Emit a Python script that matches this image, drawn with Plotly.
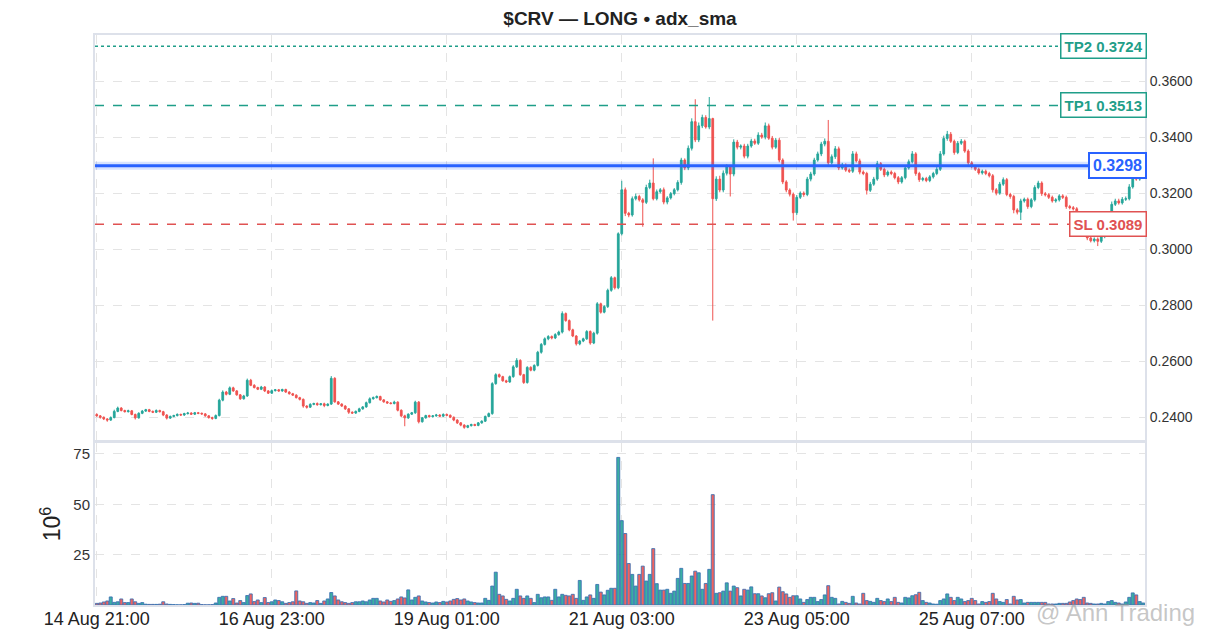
import plotly.graph_objects as go
import pandas as pd

# ---------------- data (hourly candles) ----------------
start_time = "2025-08-14 21:00"
n_candles = 300
first_open = 0.2410

close = [
    0.2405, 0.2400, 0.2394, 0.2390, 0.2399, 0.2421, 0.2433, 0.2424, 0.2420, 0.2423,
    0.2410, 0.2398, 0.2414, 0.2422, 0.2427, 0.2421, 0.2418, 0.2424, 0.2420, 0.2408,
    0.2397, 0.2403, 0.2406, 0.2410, 0.2408, 0.2413, 0.2415, 0.2411, 0.2416, 0.2414,
    0.2412, 0.2405, 0.2399, 0.2396, 0.2406, 0.2461, 0.2490, 0.2482, 0.2505, 0.2494,
    0.2480, 0.2466, 0.2476, 0.2532, 0.2514, 0.2506, 0.2500, 0.2508, 0.2494, 0.2486,
    0.2495, 0.2498, 0.2494, 0.2499, 0.2490, 0.2484, 0.2479, 0.2470, 0.2464, 0.2440,
    0.2436, 0.2446, 0.2449, 0.2445, 0.2448, 0.2442, 0.2447, 0.2539, 0.2455, 0.2447,
    0.2440, 0.2430, 0.2418, 0.2415, 0.2421, 0.2430, 0.2437, 0.2452, 0.2466, 0.2470,
    0.2474, 0.2462, 0.2455, 0.2451, 0.2449, 0.2454, 0.2425, 0.2405, 0.2398, 0.2411,
    0.2416, 0.2454, 0.2384, 0.2398, 0.2406, 0.2402, 0.2405, 0.2408, 0.2404, 0.2410,
    0.2407, 0.2400, 0.2390, 0.2380, 0.2372, 0.2364, 0.2370, 0.2374, 0.2371, 0.2380,
    0.2386, 0.2403, 0.2413, 0.2520, 0.2552, 0.2545, 0.2530, 0.2526, 0.2545, 0.2580,
    0.2603, 0.2552, 0.2524, 0.2578, 0.2568, 0.2585, 0.2632, 0.2660, 0.2680, 0.2688,
    0.2683, 0.2695, 0.2704, 0.2770, 0.2745, 0.2712, 0.2690, 0.2662, 0.2672, 0.2680,
    0.2706, 0.2665, 0.2700, 0.2805, 0.2775, 0.2795, 0.2853, 0.2898, 0.2862, 0.3055,
    0.3212, 0.3128, 0.3122, 0.3180, 0.3188, 0.3176, 0.3167, 0.3220, 0.3236, 0.3180,
    0.3205, 0.3212, 0.3168, 0.3183, 0.3198, 0.3212, 0.3238, 0.3318, 0.3290, 0.3360,
    0.3455, 0.3390, 0.3440, 0.3470, 0.3436, 0.3466, 0.3180, 0.3250, 0.3211, 0.3271,
    0.3293, 0.3268, 0.3382, 0.3364, 0.3368, 0.3332, 0.3368, 0.3386, 0.3378, 0.3407,
    0.3400, 0.3440, 0.3396, 0.3364, 0.3389, 0.3318, 0.3240, 0.3211, 0.3196, 0.3130,
    0.3185, 0.3200, 0.3195, 0.3250, 0.3268, 0.3318, 0.3340, 0.3375, 0.3385, 0.3308,
    0.3330, 0.3358, 0.3290, 0.3300, 0.3282, 0.3278, 0.3340, 0.3315, 0.3275, 0.3270,
    0.3210, 0.3232, 0.3250, 0.3305, 0.3285, 0.3265, 0.3275, 0.3270, 0.3255, 0.3240,
    0.3255, 0.3290, 0.3312, 0.3340, 0.3270, 0.3248, 0.3252, 0.3245, 0.3258, 0.3270,
    0.3285, 0.3340, 0.3395, 0.3410, 0.3385, 0.3345, 0.3378, 0.3385, 0.3350, 0.3308,
    0.3295, 0.3285, 0.3272, 0.3278, 0.3270, 0.3262, 0.3212, 0.3200, 0.3232, 0.3248,
    0.3195, 0.3188, 0.3140, 0.3132, 0.3172, 0.3178, 0.3152, 0.3176, 0.3220, 0.3236,
    0.3198, 0.3194, 0.3185, 0.3172, 0.3176, 0.3190, 0.3185, 0.3152, 0.3148, 0.3144,
    0.3130, 0.3095, 0.3060, 0.3040, 0.3030, 0.3036, 0.3028, 0.3045, 0.3060, 0.3110,
    0.3160, 0.3172, 0.3165, 0.3178, 0.3180, 0.3222, 0.3255, 0.3250, 0.3258, 0.3262,
]

# wick lengths above / below the candle body, in units of 0.0001
upper_wick = [
    4, 3, 3, 3, 4, 6, 5, 3, 3, 4,
    3, 3, 4, 4, 3, 3, 3, 4, 3, 3,
    3, 3, 3, 4, 3, 3, 4, 3, 3, 3,
    3, 3, 3, 3, 4, 5, 6, 4, 5, 4,
    3, 3, 4, 6, 5, 4, 3, 4, 3, 3,
    4, 3, 3, 3, 3, 3, 3, 3, 3, 3,
    3, 4, 3, 4, 3, 4, 3, 8, 4, 3,
    3, 3, 3, 3, 3, 4, 3, 4, 5, 4,
    4, 3, 3, 3, 3, 5, 3, 3, 4, 3,
    3, 5, 4, 3, 3, 3, 3, 4, 3, 4,
    3, 3, 3, 3, 3, 3, 3, 3, 3, 3,
    3, 3, 4, 5, 5, 4, 3, 4, 4, 6,
    8, 4, 3, 4, 4, 4, 5, 5, 5, 5,
    4, 5, 5, 8, 4, 4, 4, 3, 4, 4,
    5, 4, 5, 6, 4, 5, 6, 6, 4, 5,
    32, 8, 5, 8, 10, 6, 6, 10, 12, 88,
    8, 6, 8, 6, 6, 6, 8, 8, 6, 10,
    12, 80, 12, 10, 8, 77, 3, 10, 12, 10,
    10, 8, 10, 8, 6, 8, 8, 8, 8, 10,
    8, 12, 8, 8, 8, 8, 6, 6, 6, 6,
    8, 6, 6, 8, 8, 8, 8, 8, 10, 76,
    8, 10, 8, 8, 6, 6, 10, 8, 8, 6,
    6, 8, 8, 10, 6, 6, 6, 6, 6, 6,
    6, 8, 8, 10, 6, 6, 6, 6, 6, 6,
    8, 10, 10, 12, 8, 6, 8, 8, 6, 6,
    6, 6, 6, 6, 6, 6, 6, 6, 8, 8,
    6, 6, 6, 6, 8, 6, 6, 6, 8, 8,
    6, 6, 6, 6, 6, 6, 6, 6, 6, 6,
    6, 6, 6, 6, 6, 6, 6, 8, 8, 10,
    10, 8, 8, 8, 8, 10, 10, 8, 8, 6,
]

lower_wick = [
    3, 5, 4, 6, 3, 3, 3, 3, 3, 3,
    3, 6, 3, 3, 3, 3, 3, 3, 3, 4,
    5, 3, 3, 3, 3, 3, 3, 3, 3, 3,
    3, 3, 4, 5, 3, 3, 4, 4, 3, 3,
    3, 4, 3, 3, 3, 3, 3, 3, 4, 3,
    3, 3, 3, 3, 3, 3, 3, 3, 4, 6,
    5, 3, 3, 4, 3, 6, 3, 3, 3, 3,
    3, 4, 6, 3, 3, 3, 3, 3, 3, 3,
    3, 3, 3, 3, 3, 3, 4, 4, 30, 4,
    3, 4, 6, 3, 3, 3, 3, 3, 3, 3,
    3, 3, 4, 4, 4, 5, 3, 3, 3, 3,
    3, 3, 3, 4, 4, 4, 3, 4, 3, 4,
    4, 4, 5, 4, 4, 4, 4, 5, 4, 5,
    5, 4, 4, 5, 4, 5, 4, 6, 5, 4,
    4, 6, 4, 5, 5, 4, 5, 5, 6, 5,
    6, 10, 8, 6, 6, 6, 87, 6, 6, 6,
    6, 6, 8, 8, 6, 6, 6, 8, 8, 8,
    8, 8, 8, 8, 6, 8, 435, 8, 8, 8,
    8, 80, 8, 8, 8, 8, 8, 6, 6, 6,
    6, 8, 6, 8, 6, 8, 8, 8, 8, 28,
    8, 6, 8, 6, 8, 6, 6, 8, 8, 8,
    6, 8, 8, 6, 6, 6, 6, 6, 8, 6,
    15, 6, 6, 6, 6, 8, 6, 6, 6, 8,
    6, 6, 6, 6, 8, 8, 6, 6, 6, 6,
    6, 6, 6, 8, 6, 8, 6, 6, 6, 8,
    6, 6, 6, 6, 6, 6, 10, 8, 6, 6,
    6, 8, 12, 8, 28, 6, 8, 6, 6, 6,
    8, 6, 6, 6, 6, 6, 6, 8, 6, 6,
    6, 8, 8, 8, 6, 6, 17, 6, 6, 6,
    6, 6, 6, 6, 6, 6, 6, 6, 6, 6,
]

# volume in millions
volume_m = [
    0.8, 1.0, 1.5, 2.0, 4.0, 1.3, 1.6, 3.0, 1.2, 1.2,
    3.0, 1.6, 0.8, 1.2, 0.4, 0.3, 0.3, 0.3, 0.4, 1.6,
    0.5, 0.3, 0.2, 0.1, 0.1, 0.2, 0.9, 1.0, 0.8, 0.9,
    0.2, 0.1, 0.1, 0.2, 1.0, 3.8, 4.3, 4.3, 2.0, 3.2,
    1.0, 2.2, 1.2, 4.7, 5.5, 1.7, 2.5, 1.2, 3.7, 1.2,
    1.6, 2.5, 2.2, 1.6, 0.8, 1.2, 1.6, 7.0, 2.0, 1.6,
    0.8, 1.2, 1.0, 2.2, 0.8, 2.0, 3.0, 6.2, 4.5, 2.5,
    1.6, 1.2, 0.8, 1.2, 1.6, 1.6, 2.0, 1.6, 2.5, 3.3,
    3.3, 2.0, 1.5, 2.5, 1.8, 2.2, 3.0, 4.0, 3.5, 7.5,
    2.5, 3.8, 4.5, 2.0, 1.5, 1.2, 1.0, 1.5, 1.2, 1.8,
    1.5, 2.0, 2.8, 3.2, 2.5, 3.0, 2.0, 1.5, 1.2, 1.0,
    1.0, 3.3, 2.3, 9.4, 16.3, 5.3, 4.5, 2.8, 2.0, 3.3,
    7.8, 4.5, 3.3, 4.5, 3.3, 1.2, 5.3, 3.6, 4.0, 4.0,
    2.3, 7.8, 4.0, 5.3, 4.8, 4.5, 5.3, 3.3, 12.2, 2.3,
    4.0, 5.0, 3.3, 10.2, 6.4, 5.0, 7.3, 8.3, 8.3, 73.3,
    41.9, 35.5, 20.6, 15.2, 9.4, 15.2, 19.3, 11.9, 15.2, 28.0,
    10.6, 7.4, 7.4, 7.8, 5.8, 6.9, 13.2, 18.2, 10.7, 10.7,
    14.4, 16.8, 16.0, 7.8, 10.7, 17.7, 54.8, 5.8, 6.1, 6.9,
    11.0, 6.9, 9.4, 8.6, 4.5, 7.8, 7.4, 9.0, 5.6, 5.6,
    4.5, 3.6, 5.6, 6.1, 2.0, 8.9, 6.6, 5.5, 3.8, 4.6,
    4.6, 3.0, 1.3, 2.7, 3.8, 3.8, 1.7, 2.7, 5.0, 9.6,
    3.8, 3.3, 0.5, 1.8, 1.3, 0.8, 4.3, 1.0, 0.5, 5.8,
    2.2, 1.8, 1.3, 3.3, 2.2, 1.7, 3.0, 1.7, 3.8, 1.3,
    1.0, 3.8, 3.5, 4.6, 5.1, 6.3, 2.2, 1.3, 1.0, 0.5,
    0.4, 2.2, 3.0, 5.5, 3.8, 2.2, 3.8, 3.0, 1.7, 2.2,
    3.3, 2.2, 0.5, 1.7, 1.3, 1.7, 5.8, 3.0, 1.7, 1.3,
    2.7, 0.5, 4.3, 2.5, 2.7, 1.0, 1.3, 1.3, 1.3, 1.3,
    1.3, 1.3, 0.5, 0.5, 0.5, 0.8, 0.8, 0.8, 1.5, 2.2,
    3.0, 2.7, 3.8, 1.0, 0.8, 0.5, 0.5, 0.8, 0.5, 1.7,
    2.2, 1.3, 1.0, 0.5, 1.5, 3.8, 6.0, 5.0, 1.7, 1.0,
]

tp2_price = 0.3724
tp1_price = 0.3513
entry_price = 0.3298
sl_price = 0.3089
price_ticks = [0.24, 0.26, 0.28, 0.30, 0.32, 0.34, 0.36]
volume_ticks = [25, 50, 75]
tick_every = 50

assert len(close) == n_candles and len(upper_wick) == n_candles
assert len(lower_wick) == n_candles and len(volume_m) == n_candles

# ---------------- build table ----------------
times = pd.date_range(start_time, periods=n_candles, freq="h")
opens = [first_open] + close[:-1]
highs = [max(o, c) + u * 1e-4 for o, c, u in zip(opens, close, upper_wick)]
lows = [min(o, c) - d * 1e-4 for o, c, d in zip(opens, close, lower_wick)]

UP = "#26a69a"
DOWN = "#ef5350"
vol_colors = [UP if c >= o else DOWN for o, c in zip(opens, close)]

tick_vals = list(times[::tick_every])
tick_text = [t.strftime("%d %b %H:%M") for t in tick_vals]
x_range = [times[0] - pd.Timedelta(minutes=30), times[-1] + pd.Timedelta(minutes=30)]

FONT = "Liberation Sans, Arial, sans-serif"
GRID = "#e4e4e4"
BORDER = "#dde1ea"
TEAL = "#1f9e89"
BLUE = "#2962ff"
RED = "#e05252"

fig = go.Figure()
fig.add_trace(go.Candlestick(
    x=times, open=opens, high=highs, low=lows, close=close,
    increasing=dict(line=dict(color=UP, width=1), fillcolor=UP),
    decreasing=dict(line=dict(color=DOWN, width=1), fillcolor=DOWN),
    xaxis="x", yaxis="y", showlegend=False,
))
fig.add_trace(go.Bar(
    x=times, y=volume_m,
    marker=dict(color=vol_colors, line=dict(color="rgba(35,95,170,0.85)", width=1)),
    opacity=0.9, xaxis="x2", yaxis="y2", showlegend=False,
))

shapes = [
    dict(type="line", xref="paper", x0=0, x1=1, yref="y", y0=tp2_price, y1=tp2_price,
         line=dict(color=TEAL, width=1.5, dash="dot")),
    dict(type="line", xref="paper", x0=0, x1=1, yref="y", y0=tp1_price, y1=tp1_price,
         line=dict(color=TEAL, width=1.5, dash="dash")),
    dict(type="line", xref="paper", x0=0, x1=1, yref="y", y0=sl_price, y1=sl_price,
         line=dict(color=RED, width=1.5, dash="dash")),
    dict(type="line", xref="paper", x0=0, x1=1, yref="y", y0=entry_price, y1=entry_price,
         line=dict(color="rgba(41,98,255,0.18)", width=8)),
    dict(type="line", xref="paper", x0=0, x1=1, yref="y", y0=entry_price, y1=entry_price,
         line=dict(color=BLUE, width=3)),
]

def level_label(text, price, color, size, bw):
    return dict(
        text=f"<b>{text}</b>", x=1.002, xref="paper", xanchor="right",
        y=price, yref="y", yanchor="middle", showarrow=False,
        font=dict(family=FONT, size=size, color=color),
        bgcolor="white", bordercolor=color, borderwidth=bw, borderpad=3,
    )

annotations = [
    level_label(f"TP2 {tp2_price:.4f}", tp2_price, TEAL, 15, 1.5),
    level_label(f"TP1 {tp1_price:.4f}", tp1_price, TEAL, 15, 1.5),
    level_label(f"{entry_price:.4f}", entry_price, BLUE, 16, 2),
    level_label(f"SL {sl_price:.4f}", sl_price, RED, 15, 1.5),
    dict(text="@ Ann Trading", x=1.0496, xref="paper", xanchor="right",
         y=-0.014, yref="paper", yanchor="middle", showarrow=False,
         font=dict(family=FONT, size=24, color="rgba(150,150,150,0.55)")),
]

axis_common = dict(showgrid=True, gridcolor=GRID, griddash="dash", gridwidth=1,
                   showline=True, linecolor=BORDER, linewidth=2, mirror=True,
                   zeroline=False, ticks="", automargin=False)

# the page body has an 8px margin, so the figure is sized to sit inside the window
fig.update_layout(
    width=1197, height=630,
    margin=dict(l=87, r=60, t=27, b=33),
    paper_bgcolor="white", plot_bgcolor="white",
    font=dict(family=FONT, color="#222"),
    title=dict(text="<b>$CRV — LONG • adx_sma</b>", x=0.5, xref="paper", xanchor="center",
               y=1 - 10 / 630, yref="container", yanchor="middle",
               font=dict(family=FONT, size=19, color="#222")),
    xaxis=dict(domain=[0, 1], anchor="y", type="date", range=x_range,
               tickvals=tick_vals, showticklabels=False, matches="x2",
               rangeslider=dict(visible=False), **axis_common),
    yaxis=dict(domain=[0.289, 1], anchor="x", side="right",
               range=[0.23179, 0.37643], tickvals=price_ticks,
               ticktext=[f"{v:.4f}" for v in price_ticks],
               tickfont=dict(family=FONT, size=14, color="#333"), **axis_common),
    xaxis2=dict(domain=[0, 1], anchor="y2", type="date", range=x_range,
                tickvals=tick_vals, ticktext=tick_text, ticklabelstandoff=-4,
                tickfont=dict(family=FONT, size=18, color="#222"), **axis_common),
    yaxis2=dict(domain=[0, 0.284], anchor="x2", side="left", range=[0, 80.4],
                tickvals=volume_ticks, ticktext=[str(v) for v in volume_ticks],
                tickfont=dict(family=FONT, size=15, color="#333"),
                title=dict(text="10<sup>6</sup>", font=dict(family=FONT, size=23, color="#222"),
                           standoff=6),
                **axis_common),
    bargap=0.15,
    shapes=shapes,
    annotations=annotations,
    showlegend=False,
)

fig.write_html("out.html")
